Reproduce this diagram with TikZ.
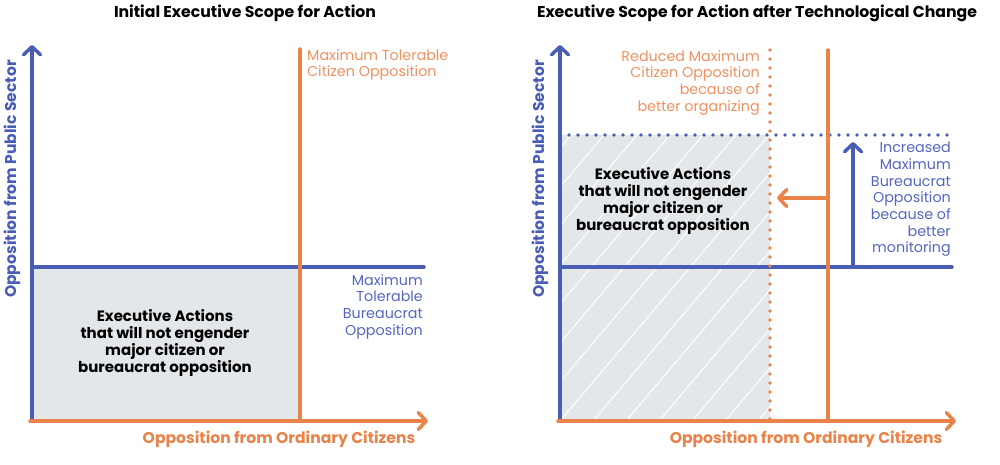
\documentclass[tikz,border=0pt]{standalone}
\usepackage{fontspec}
\setmainfont{Poppins}
\usetikzlibrary{arrows.meta}
\definecolor{cblue}{HTML}{4A5DB4}
\definecolor{corange}{HTML}{E9834A}
\definecolor{tblue}{HTML}{5566BE}
\definecolor{torange}{HTML}{EF9160}
\definecolor{cgray}{HTML}{E4E7EA}
\begin{document}
\begin{tikzpicture}[x=1pt,y=-1pt,
  ax/.style={line width=3.5pt,line cap=round},
  tipped/.style={-{Straight Barb[round,length=8pt,width=17pt]}},
  dots/.style={line width=3.8pt,line cap=round,dash pattern=on 0pt off 9pt},
  lbl/.style={font=\fontsize{14.3}{16.7}\selectfont,inner sep=0pt},
  bl/.style={font=\bfseries\fontsize{15}{17}\selectfont,align=center,inner sep=0pt},
  ttl/.style={font=\bfseries\fontsize{15.7}{18}\selectfont,inner sep=0pt},
  axl/.style={font=\bfseries\fontsize{15.6}{18}\selectfont,inner sep=0pt}]
\useasboundingbox (0,0) rectangle (1000,464);
% ---------------- left panel
\coordinate (L0) at (32,421);
\coordinate (Lyt) at (32,45);
\coordinate (Lxs) at (30,421);
\coordinate (Lxt) at (428,421);
\coordinate (Lbs) at (32,267);
\coordinate (Lbe) at (424,267);
\coordinate (Lot) at (300,49);
\coordinate (Lob) at (300,421);
\fill[cgray] (L0) rectangle (300,267);
\draw[ax,cblue,tipped] (L0) -- (Lyt);
\draw[ax,corange,tipped] (Lxs) -- (Lxt);
\draw[ax,cblue] (Lbs) -- (Lbe);
\draw[ax,corange] (Lob) -- (Lot);
\node[ttl] (t1) at (245,13) {Initial Executive Scope for Action};
\node[lbl,torange,align=left,anchor=north west] (lc) at (307,49) {Maximum Tolerable\\Citizen Opposition};
\node[lbl,tblue,align=right,anchor=north east] (lb) at (423,274) {Maximum\\Tolerable\\Bureaucrat\\Opposition};
\node[bl] (le) at (165,343) {Executive Actions\\that will not engender\\major citizen or\\bureaucrat opposition};
\node[axl,corange] (lx) at (279,439) {Opposition from Ordinary Citizens};
\node[axl,cblue,rotate=90] (ly) at (12,179) {Opposition from Public Sector};
% ---------------- right panel
\coordinate (R0) at (560,421);
\coordinate (Ryt) at (560,45);
\coordinate (Rxs) at (558,421);
\coordinate (Rxt) at (956,421);
\coordinate (Rbs) at (560,267);
\coordinate (Rbe) at (952,267);
\coordinate (Rds) at (560,135);
\coordinate (Rde) at (952,135);
\coordinate (Rdt) at (770,50);
\coordinate (Rdb) at (770,421);
\coordinate (Rot) at (828,50);
\coordinate (Rob) at (828,421);
\coordinate (Ras) at (828,198);
\coordinate (Rae) at (777,198);
\coordinate (Rbas) at (853,267);
\coordinate (Rbae) at (853,142);
\fill[cgray] (R0) rectangle (770,135);
\begin{scope}
  \clip (R0) rectangle (770,135);
  \foreach \i in {-8,...,8}
    \draw[white,line width=1pt] (560+33*\i,421) -- ++(242,-286);
\end{scope}
\draw[ax,cblue,tipped] (R0) -- (Ryt);
\draw[ax,corange,tipped] (Rxs) -- (Rxt);
\draw[ax,cblue] (Rbs) -- (Rbe);
\draw[dots,cblue] (Rds) -- (Rde);
\draw[dots,corange] (Rdt) -- (Rdb);
\draw[ax,corange] (Rob) -- (Rot);
\draw[ax,corange,tipped] (Ras) -- (Rae);
\draw[ax,cblue,tipped] (Rbas) -- (Rbae);
\node[ttl] (t2) at (757,13) {Executive Scope for Action after Technological Change};
\node[lbl,torange,align=right,anchor=north east] (rc) at (760,50) {Reduced Maximum\\Citizen Opposition\\because of\\better organizing};
\node[lbl,tblue,align=right,anchor=north east] (rb) at (951,142) {Increased\\Maximum\\Bureaucrat\\Opposition\\because of\\better\\monitoring};
\node[bl] (re) at (663,201) {Executive Actions\\that will not engender\\major citizen or\\bureaucrat opposition};
\node[axl,corange] (rx) at (806,439) {Opposition from Ordinary Citizens};
\node[axl,cblue,rotate=90] (ry) at (540,179) {Opposition from Public Sector};
\end{tikzpicture}
\end{document}
